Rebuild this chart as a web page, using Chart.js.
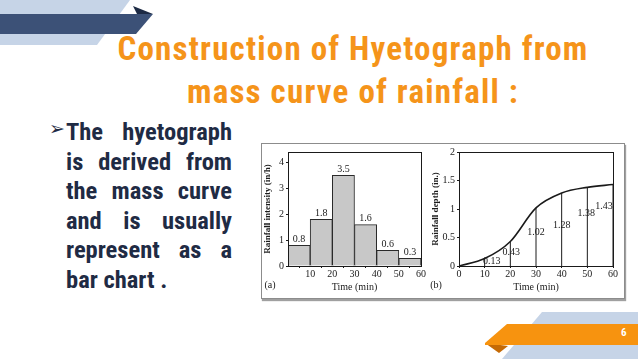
<!DOCTYPE html>
<html><head><meta charset="utf-8">
<script src="https://cdn.jsdelivr.net/npm/chart.js@4.4.1/dist/chart.umd.min.js"></script>
<style>
html,body{margin:0;padding:0;background:#fff;}
body{width:638px;height:359px;position:relative;overflow:hidden;font-family:"Roboto Condensed","Liberation Sans Narrow",sans-serif;}
#deco{position:absolute;left:0;top:0;}
.title{position:absolute;left:100px;width:506px;top:27px;text-align:center;color:#f5941a;font-weight:700;font-size:33px;line-height:43px;letter-spacing:1.2px;}
.bullet{position:absolute;left:49px;top:117px;font-family:"DejaVu Sans";font-size:19px;color:#1f2b44;}
.para{position:absolute;left:66px;top:117px;width:166px;color:#1f2b44;font-weight:700;font-size:24.5px;line-height:29.6px;}
.ln{display:flex;justify-content:space-between;white-space:nowrap;}
.ln.last{justify-content:flex-start;}
.box{position:absolute;left:261px;top:143px;width:362px;height:154px;border:1px solid #8c8c8c;box-shadow:1px 2px 1px #a0a0a0;}
canvas{position:absolute;}
#ca{left:262px;top:144px;}
#cb{left:430px;top:144px;}
.pg{position:absolute;left:621px;top:326px;color:#fff;font-weight:700;font-size:11px;}
</style></head>
<body>
<svg id="deco" width="638" height="359">
  <polygon points="0,0 130,0 97,45 0,45" fill="#c6d4e7"/>
  <polygon points="0,14 153,14 136,34 0,34" fill="#3c5177"/>
  <polygon points="133,6 153,14 137,14" fill="#1d2a44"/>
  <polygon points="542,312 638,312 638,359 502,359" fill="#c6d4e7"/>
  <polygon points="485,343 508,346 499,353" fill="#c56a05"/>
  <polygon points="507,324 638,324 638,345 485,345 485,343" fill="#f7930f"/>
</svg>
<div class="title"><div>Construction of Hyetograph from</div><div>mass curve of rainfall :</div></div>
<div class="bullet">➢</div>
<div class="para">
  <div class="ln"><span>The</span><span>hyetograph</span></div>
  <div class="ln"><span>is</span><span>derived</span><span>from</span></div>
  <div class="ln"><span>the</span><span>mass</span><span>curve</span></div>
  <div class="ln"><span>and</span><span>is</span><span>usually</span></div>
  <div class="ln"><span>represent</span><span>as</span><span>a</span></div>
  <div class="ln last">bar chart .</div>
</div>
<div class="box"></div>
<canvas id="ca" width="168" height="149"></canvas>
<canvas id="cb" width="194" height="149"></canvas>
<div class="pg">6</div>
<script>
// ---- data ----
const binStart = [0, 10, 20, 30, 40, 50];
const binWidth = 10;
const intensity = [0.8, 1.8, 3.5, 1.6, 0.6, 0.3];   // in/h
const times = [0, 10, 20, 30, 40, 50, 60];          // min
const depth = [0, 0.13, 0.43, 1.02, 1.28, 1.38, 1.43]; // in.
const intensityTicks = [0, 1, 2, 3, 4];
const depthTicks = [0, 0.5, 1, 1.5, 2];
const timeTicks = [0, 10, 20, 30, 40, 50, 60];

// ---- style ----
const SERIF = '"Liberation Serif", "DejaVu Serif", serif';
const INK = '#1a1a1a';
const tickFont = {family: SERIF, size: 10};
const titleFont = {family: SERIF, size: 10};
// label placement for depth values: [dx px, fraction of value]
const depthLabelPlace = [null, [7, 0.66], [1, 0.56], [0, 0.58], [0, 0.55], [-1, 0.67], [-9, 0.73]];

const framePlugin = {
  id: 'frame',
  afterDraw(chart, args, opts) {
    const {ctx, chartArea: a} = chart;
    ctx.save();
    ctx.strokeStyle = INK; ctx.lineWidth = 1;
    ctx.strokeRect(Math.round(a.left) + 0.5, Math.round(a.top) + 0.5, Math.round(a.right - a.left), Math.round(a.bottom - a.top));
    ctx.fillStyle = INK; ctx.font = '10px ' + SERIF; ctx.textAlign = 'center'; ctx.textBaseline = 'middle';
    ctx.fillText(opts.tag, opts.tagX, opts.tagY);
    ctx.restore();
  }
};

function axisCommon(extra) {
  return Object.assign({
    grid: {drawOnChartArea: false, drawTicks: true, tickLength: 2, color: INK},
    border: {color: INK, width: 1},
  }, extra);
}

// ---- chart (a): hyetograph ----
const barLabels = {
  id: 'barLabels',
  afterDatasetsDraw(chart) {
    const {ctx} = chart;
    const meta = chart.getDatasetMeta(0);
    ctx.save();
    ctx.fillStyle = INK; ctx.font = '10px ' + SERIF; ctx.textAlign = 'center'; ctx.textBaseline = 'bottom';
    meta.data.forEach((bar, i) => ctx.fillText(String(intensity[i]), bar.x, bar.y - 1));
    ctx.restore();
  }
};

new Chart(document.getElementById('ca'), {
  type: 'bar',
  data: {
    datasets: [{
      data: binStart.map((s, i) => ({x: s + binWidth / 2, y: intensity[i]})),
      backgroundColor: '#c8c8c8', borderColor: '#2a2a2a', borderWidth: 1,
      barPercentage: 1, categoryPercentage: 1, borderSkipped: 'start'
    }]
  },
  options: {
    responsive: false, animation: false, devicePixelRatio: 1,
    layout: {padding: {left: 0, right: 9, top: 5, bottom: 0}},
    plugins: {legend: {display: false}, tooltip: {enabled: false},
      frame: {tag: '(a)', tagX: 8, tagY: 141}},
    scales: {
      x: axisCommon({
        type: 'linear', min: 0, max: 60, offset: false,
        afterBuildTicks: s => { s.ticks = timeTicks.map(v => ({value: v})); },
        ticks: {font: tickFont, color: INK, padding: 0, maxRotation: 0, callback: v => v === 0 ? '' : String(v)},
        title: {display: true, text: 'Time (min)', font: titleFont, color: INK, padding: {top: 0, bottom: 0}},
        afterFit: s => { s.height = 27; }
      }),
      y: axisCommon({
        min: 0, max: 4.4,
        afterBuildTicks: s => { s.ticks = intensityTicks.map(v => ({value: v})); },
        ticks: {font: tickFont, color: INK, padding: 2, callback: v => String(v)},
        title: {display: true, text: 'Rainfall intensity (in/h)', font: {family: SERIF, size: 9, weight: 'bold'}, color: INK, padding: {top: 0, bottom: 0}},
        afterFit: s => { s.width = 26; }
      })
    }
  },
  plugins: [framePlugin, barLabels]
});

// ---- chart (b): mass curve ----
const depthLabels = {
  id: 'depthLabels',
  afterDatasetsDraw(chart) {
    const {ctx, scales: {x, y}} = chart;
    ctx.save();
    ctx.fillStyle = INK; ctx.font = '10px ' + SERIF; ctx.textAlign = 'center'; ctx.textBaseline = 'middle';
    times.forEach((t, i) => {
      const p = depthLabelPlace[i];
      if (!p) return;
      ctx.fillText(depth[i].toFixed(2), x.getPixelForValue(t) + p[0], y.getPixelForValue(depth[i] * p[1]));
    });
    ctx.restore();
  }
};

const verticals = times.map((t, i) => ({
  data: [{x: t, y: 0}, {x: t, y: depth[i]}],
  borderColor: INK, borderWidth: 1, pointRadius: 0
})).slice(1);

new Chart(document.getElementById('cb'), {
  type: 'line',
  data: {
    datasets: [{
      data: times.map((t, i) => ({x: t, y: depth[i]})),
      borderColor: INK, borderWidth: 1.6, pointRadius: 0, cubicInterpolationMode: 'monotone'
    }, ...verticals]
  },
  options: {
    responsive: false, animation: false, devicePixelRatio: 1,
    layout: {padding: {left: 0, right: 11, top: 6, bottom: 0}},
    plugins: {legend: {display: false}, tooltip: {enabled: false},
      frame: {tag: '(b)', tagX: 6, tagY: 141}},
    scales: {
      x: axisCommon({
        type: 'linear', min: 0, max: 60, offset: false,
        afterBuildTicks: s => { s.ticks = timeTicks.map(v => ({value: v})); },
        ticks: {font: tickFont, color: INK, padding: 0, maxRotation: 0, callback: v => String(v)},
        title: {display: true, text: 'Time (min)', font: titleFont, color: INK, padding: {top: 0, bottom: 0}},
        afterFit: s => { s.height = 27; }
      }),
      y: axisCommon({
        min: 0, max: 2,
        afterBuildTicks: s => { s.ticks = depthTicks.map(v => ({value: v})); },
        ticks: {font: tickFont, color: INK, padding: 2, callback: v => String(v)},
        title: {display: true, text: 'Rainfall depth (in.)', font: {family: SERIF, size: 9, weight: 'bold'}, color: INK, padding: {top: 0, bottom: 0}},
        afterFit: s => { s.width = 29; }
      })
    }
  },
  plugins: [framePlugin, depthLabels]
});
</script>
</body></html>
